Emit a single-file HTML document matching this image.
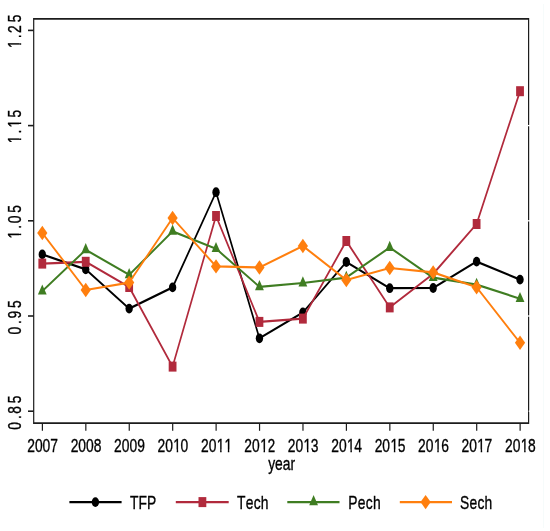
<!DOCTYPE html>
<html lang="en"><head><meta charset="utf-8"><title>TFP chart</title>
<style>html,body{margin:0;padding:0;background:#fff;}body{width:550px;height:531px;overflow:hidden;}svg{display:block;}text{font-family:"Liberation Sans",Arial,sans-serif;fill:#000;stroke:#000;stroke-width:0.35px;font-kerning:none;}</style></head><body>
<svg width="550" height="531" viewBox="0 0 550 531">
<rect x="0" y="0" width="550" height="531" fill="#ffffff"/>
<line x1="543.5" y1="4" x2="543.5" y2="528" stroke="#f6fbfb" stroke-width="1"/>
<g transform="scale(0.75,1)">
<line x1="44.93" y1="18.1" x2="44.93" y2="423.9" stroke="#1c1c1c" stroke-width="1.6"/>
<line x1="704.80" y1="18.1" x2="704.80" y2="423.9" stroke="#1c1c1c" stroke-width="1.6"/>
<line x1="44.93" y1="18.9" x2="704.80" y2="18.9" stroke="#1c1c1c" stroke-width="1.6"/>
<line x1="44.93" y1="423.1" x2="704.80" y2="423.1" stroke="#1c1c1c" stroke-width="1.6"/>
<line x1="37.33" y1="30.4" x2="44.93" y2="30.4" stroke="#1c1c1c" stroke-width="1.6"/>
<line x1="37.33" y1="125.6" x2="44.93" y2="125.6" stroke="#1c1c1c" stroke-width="1.6"/>
<line x1="703.20" y1="125.6" x2="710.67" y2="125.6" stroke="#fff" stroke-width="1.3"/>
<line x1="37.33" y1="220.8" x2="44.93" y2="220.8" stroke="#1c1c1c" stroke-width="1.6"/>
<line x1="703.20" y1="220.8" x2="710.67" y2="220.8" stroke="#fff" stroke-width="1.3"/>
<line x1="37.33" y1="316.0" x2="44.93" y2="316.0" stroke="#1c1c1c" stroke-width="1.6"/>
<line x1="703.20" y1="316.0" x2="710.67" y2="316.0" stroke="#fff" stroke-width="1.3"/>
<line x1="37.33" y1="411.2" x2="44.93" y2="411.2" stroke="#1c1c1c" stroke-width="1.6"/>
<line x1="704.93" y1="411.2" x2="710.67" y2="411.2" stroke="#fff" stroke-width="1.3"/>
<line x1="56.53" y1="423.1" x2="56.53" y2="430.8" stroke="#1c1c1c" stroke-width="1.6"/>
<line x1="114.44" y1="423.1" x2="114.44" y2="430.8" stroke="#1c1c1c" stroke-width="1.6"/>
<line x1="172.35" y1="423.1" x2="172.35" y2="430.8" stroke="#1c1c1c" stroke-width="1.6"/>
<line x1="230.25" y1="423.1" x2="230.25" y2="430.8" stroke="#1c1c1c" stroke-width="1.6"/>
<line x1="288.16" y1="423.1" x2="288.16" y2="430.8" stroke="#1c1c1c" stroke-width="1.6"/>
<line x1="346.07" y1="423.1" x2="346.07" y2="430.8" stroke="#1c1c1c" stroke-width="1.6"/>
<line x1="403.97" y1="423.1" x2="403.97" y2="430.8" stroke="#1c1c1c" stroke-width="1.6"/>
<line x1="461.88" y1="423.1" x2="461.88" y2="430.8" stroke="#1c1c1c" stroke-width="1.6"/>
<line x1="519.79" y1="423.1" x2="519.79" y2="430.8" stroke="#1c1c1c" stroke-width="1.6"/>
<line x1="577.69" y1="423.1" x2="577.69" y2="430.8" stroke="#1c1c1c" stroke-width="1.6"/>
<line x1="635.60" y1="423.1" x2="635.60" y2="430.8" stroke="#1c1c1c" stroke-width="1.6"/>
<line x1="693.51" y1="423.1" x2="693.51" y2="430.8" stroke="#1c1c1c" stroke-width="1.6"/>
<polyline points="56.40,254.4 114.31,269.4 172.21,308.6 230.12,287.4 288.03,192.2 345.93,338.3 403.84,312.5 461.75,262.0 519.65,288.2 577.56,288.0 635.47,261.6 693.37,279.6" fill="none" stroke="#000000" stroke-width="2.2" stroke-linejoin="round"/>
<circle cx="56.40" cy="254.4" r="4.9" fill="#000000"/>
<circle cx="114.31" cy="269.4" r="4.9" fill="#000000"/>
<circle cx="172.21" cy="308.6" r="4.9" fill="#000000"/>
<circle cx="230.12" cy="287.4" r="4.9" fill="#000000"/>
<circle cx="288.03" cy="192.2" r="4.9" fill="#000000"/>
<circle cx="345.93" cy="338.3" r="4.9" fill="#000000"/>
<circle cx="403.84" cy="312.5" r="4.9" fill="#000000"/>
<circle cx="461.75" cy="262.0" r="4.9" fill="#000000"/>
<circle cx="519.65" cy="288.2" r="4.9" fill="#000000"/>
<circle cx="577.56" cy="288.0" r="4.9" fill="#000000"/>
<circle cx="635.47" cy="261.6" r="4.9" fill="#000000"/>
<circle cx="693.37" cy="279.6" r="4.9" fill="#000000"/>
<polyline points="56.40,263.6 114.31,261.8 172.21,287.0 230.12,366.6 288.03,216.0 345.93,321.9 403.84,318.6 461.75,241.0 519.65,307.4 577.56,273.9 635.47,224.0 693.37,91.2" fill="none" stroke="#b12a3c" stroke-width="2.2" stroke-linejoin="round"/>
<rect x="51.20" y="258.6" width="10.40" height="10.0" fill="#b12a3c"/>
<rect x="109.11" y="256.8" width="10.40" height="10.0" fill="#b12a3c"/>
<rect x="167.01" y="282.0" width="10.40" height="10.0" fill="#b12a3c"/>
<rect x="224.92" y="361.6" width="10.40" height="10.0" fill="#b12a3c"/>
<rect x="282.83" y="211.0" width="10.40" height="10.0" fill="#b12a3c"/>
<rect x="340.73" y="316.9" width="10.40" height="10.0" fill="#b12a3c"/>
<rect x="398.64" y="313.6" width="10.40" height="10.0" fill="#b12a3c"/>
<rect x="456.55" y="236.0" width="10.40" height="10.0" fill="#b12a3c"/>
<rect x="514.45" y="302.4" width="10.40" height="10.0" fill="#b12a3c"/>
<rect x="630.27" y="219.0" width="10.40" height="10.0" fill="#b12a3c"/>
<rect x="688.17" y="86.2" width="10.40" height="10.0" fill="#b12a3c"/>
<polyline points="56.40,291.2 114.31,249.8 172.21,274.8 230.12,231.4 288.03,248.7 345.93,286.8 403.84,283.0 461.75,277.6 519.65,247.5 577.56,277.7 635.47,284.6 693.37,298.7" fill="none" stroke="#3f7d22" stroke-width="2.2" stroke-linejoin="round"/>
<polygon points="56.40,284.4 62.27,294.6 50.53,294.6" fill="#3f7d22"/>
<polygon points="114.31,243.0 120.17,253.2 108.44,253.2" fill="#3f7d22"/>
<polygon points="172.21,268.0 178.08,278.2 166.35,278.2" fill="#3f7d22"/>
<polygon points="230.12,224.6 235.99,234.8 224.25,234.8" fill="#3f7d22"/>
<polygon points="288.03,241.9 293.89,252.1 282.16,252.1" fill="#3f7d22"/>
<polygon points="345.93,280.0 351.80,290.2 340.07,290.2" fill="#3f7d22"/>
<polygon points="403.84,276.2 409.71,286.4 397.97,286.4" fill="#3f7d22"/>
<polygon points="461.75,270.8 467.61,281.0 455.88,281.0" fill="#3f7d22"/>
<polygon points="519.65,240.7 525.52,250.9 513.79,250.9" fill="#3f7d22"/>
<polygon points="577.56,270.9 583.43,281.1 571.69,281.1" fill="#3f7d22"/>
<polygon points="635.47,277.8 641.33,288.0 629.60,288.0" fill="#3f7d22"/>
<polygon points="693.37,291.9 699.24,302.1 687.51,302.1" fill="#3f7d22"/>
<polyline points="56.40,233.0 114.31,290.0 172.21,282.6 230.12,218.0 288.03,266.4 345.93,267.5 403.84,246.0 461.75,280.0 519.65,268.0 577.56,272.4 635.47,287.2 693.37,342.8" fill="none" stroke="#ff7f0e" stroke-width="2.2" stroke-linejoin="round"/>
<polygon points="56.40,225.8 63.20,233.0 56.40,240.2 49.60,233.0" fill="#ff7f0e"/>
<polygon points="114.31,282.8 121.11,290.0 114.31,297.2 107.51,290.0" fill="#ff7f0e"/>
<polygon points="172.21,275.4 179.01,282.6 172.21,289.8 165.41,282.6" fill="#ff7f0e"/>
<polygon points="230.12,210.8 236.92,218.0 230.12,225.2 223.32,218.0" fill="#ff7f0e"/>
<polygon points="288.03,259.2 294.83,266.4 288.03,273.6 281.23,266.4" fill="#ff7f0e"/>
<polygon points="345.93,260.3 352.73,267.5 345.93,274.7 339.13,267.5" fill="#ff7f0e"/>
<polygon points="403.84,238.8 410.64,246.0 403.84,253.2 397.04,246.0" fill="#ff7f0e"/>
<polygon points="461.75,272.8 468.55,280.0 461.75,287.2 454.95,280.0" fill="#ff7f0e"/>
<polygon points="519.65,260.8 526.45,268.0 519.65,275.2 512.85,268.0" fill="#ff7f0e"/>
<polygon points="577.56,265.2 584.36,272.4 577.56,279.6 570.76,272.4" fill="#ff7f0e"/>
<polygon points="635.47,280.0 642.27,287.2 635.47,294.4 628.67,287.2" fill="#ff7f0e"/>
<polygon points="693.37,335.6 700.17,342.8 693.37,350.0 686.57,342.8" fill="#ff7f0e"/>
<line x1="92.53" y1="502.1" x2="162.13" y2="502.1" stroke="#000000" stroke-width="2.2"/>
<circle cx="127.20" cy="502.1" r="4.9" fill="#000000"/>
<line x1="234.40" y1="502.1" x2="304.93" y2="502.1" stroke="#b12a3c" stroke-width="2.2"/>
<rect x="264.67" y="497.1" width="10.40" height="10.0" fill="#b12a3c"/>
<line x1="383.07" y1="502.1" x2="452.67" y2="502.1" stroke="#3f7d22" stroke-width="2.2"/>
<polygon points="418.13,495.1 424.00,505.3 412.27,505.3" fill="#3f7d22"/>
<line x1="533.07" y1="502.1" x2="602.67" y2="502.1" stroke="#ff7f0e" stroke-width="2.2"/>
<polygon points="567.47,494.9 574.27,502.1 567.47,509.3 560.67,502.1" fill="#ff7f0e"/>
</g>
<g transform="translate(42.60,451.50) scale(0.725,1)"><text x="-21.25" y="0" font-size="19.1">2007</text></g>
<g transform="translate(86.03,451.50) scale(0.725,1)"><text x="-21.25" y="0" font-size="19.1">2008</text></g>
<g transform="translate(129.46,451.50) scale(0.725,1)"><text x="-21.25" y="0" font-size="19.1">2009</text></g>
<g transform="translate(172.89,451.50) scale(0.725,1)"><text x="-21.25 -10.62 0.62 10.62" y="0" font-size="19.1">2010</text><rect x="0.28" y="-1.93" width="4.98" height="3.93" fill="#fff"/><rect x="7.28" y="-1.93" width="4.83" height="3.93" fill="#fff"/></g>
<g transform="translate(216.32,451.50) scale(0.725,1)"><text x="-21.25 -10.62 0.62 11.24" y="0" font-size="19.1">2011</text><rect x="0.28" y="-1.93" width="4.98" height="3.93" fill="#fff"/><rect x="7.28" y="-1.93" width="4.83" height="3.93" fill="#fff"/><rect x="10.90" y="-1.93" width="4.98" height="3.93" fill="#fff"/><rect x="17.90" y="-1.93" width="4.83" height="3.93" fill="#fff"/></g>
<g transform="translate(259.75,451.50) scale(0.725,1)"><text x="-21.25 -10.62 0.62 10.62" y="0" font-size="19.1">2012</text><rect x="0.28" y="-1.93" width="4.98" height="3.93" fill="#fff"/><rect x="7.28" y="-1.93" width="4.83" height="3.93" fill="#fff"/></g>
<g transform="translate(303.18,451.50) scale(0.725,1)"><text x="-21.25 -10.62 0.62 10.62" y="0" font-size="19.1">2013</text><rect x="0.28" y="-1.93" width="4.98" height="3.93" fill="#fff"/><rect x="7.28" y="-1.93" width="4.83" height="3.93" fill="#fff"/></g>
<g transform="translate(346.61,451.50) scale(0.725,1)"><text x="-21.25 -10.62 0.62 10.62" y="0" font-size="19.1">2014</text><rect x="0.28" y="-1.93" width="4.98" height="3.93" fill="#fff"/><rect x="7.28" y="-1.93" width="4.83" height="3.93" fill="#fff"/></g>
<g transform="translate(390.04,451.50) scale(0.725,1)"><text x="-21.25 -10.62 0.62 10.62" y="0" font-size="19.1">2015</text><rect x="0.28" y="-1.93" width="4.98" height="3.93" fill="#fff"/><rect x="7.28" y="-1.93" width="4.83" height="3.93" fill="#fff"/></g>
<g transform="translate(433.47,451.50) scale(0.725,1)"><text x="-21.25 -10.62 0.62 10.62" y="0" font-size="19.1">2016</text><rect x="0.28" y="-1.93" width="4.98" height="3.93" fill="#fff"/><rect x="7.28" y="-1.93" width="4.83" height="3.93" fill="#fff"/></g>
<g transform="translate(476.90,451.50) scale(0.725,1)"><text x="-21.25 -10.62 0.62 10.62" y="0" font-size="19.1">2017</text><rect x="0.28" y="-1.93" width="4.98" height="3.93" fill="#fff"/><rect x="7.28" y="-1.93" width="4.83" height="3.93" fill="#fff"/></g>
<g transform="translate(520.33,451.50) scale(0.725,1)"><text x="-21.25 -10.62 0.62 10.62" y="0" font-size="19.1">2018</text><rect x="0.28" y="-1.93" width="4.98" height="3.93" fill="#fff"/><rect x="7.28" y="-1.93" width="4.83" height="3.93" fill="#fff"/></g>
<g transform="translate(281.60,469.50) scale(0.725,1)"><text x="-18.58" y="0" font-size="19.1">year</text></g>
<g transform="translate(130.00,509.40) scale(0.725,1)"><text x="0.00" y="0" font-size="19.1">TFP</text></g>
<g transform="translate(237.00,509.40) scale(0.725,1)"><text x="0.00 12.01 22.98 32.87" y="0" font-size="19.1">Tech</text></g>
<g transform="translate(348.30,509.40) scale(0.725,1)"><text x="0.00 13.08 24.05 33.95" y="0" font-size="19.1">Pech</text></g>
<g transform="translate(460.00,509.40) scale(0.725,1)"><text x="0.00 13.08 24.05 33.95" y="0" font-size="19.1">Sech</text></g>
<g transform="translate(20.90,48.90) rotate(-90) scale(0.725,1)"><text x="1.10 14.65 21.97 36.62" y="0" font-size="19.1">1.25</text><rect x="0.76" y="-1.93" width="4.98" height="3.93" fill="#fff"/><rect x="7.76" y="-1.93" width="4.83" height="3.93" fill="#fff"/></g>
<g transform="translate(20.90,144.10) rotate(-90) scale(0.725,1)"><text x="1.10 14.65 23.07 36.62" y="0" font-size="19.1">1.15</text><rect x="0.76" y="-1.93" width="4.98" height="3.93" fill="#fff"/><rect x="7.76" y="-1.93" width="4.83" height="3.93" fill="#fff"/><rect x="22.73" y="-1.93" width="4.98" height="3.93" fill="#fff"/><rect x="29.74" y="-1.93" width="4.83" height="3.93" fill="#fff"/></g>
<g transform="translate(20.90,239.30) rotate(-90) scale(0.725,1)"><text x="1.10 14.65 21.97 36.62" y="0" font-size="19.1">1.05</text><rect x="0.76" y="-1.93" width="4.98" height="3.93" fill="#fff"/><rect x="7.76" y="-1.93" width="4.83" height="3.93" fill="#fff"/></g>
<g transform="translate(20.90,334.50) rotate(-90) scale(0.725,1)"><text x="0.00 14.65 21.97 36.62" y="0" font-size="19.1">0.95</text></g>
<g transform="translate(20.90,429.70) rotate(-90) scale(0.725,1)"><text x="0.00 14.65 21.97 36.62" y="0" font-size="19.1">0.85</text></g>
</svg></body></html>
